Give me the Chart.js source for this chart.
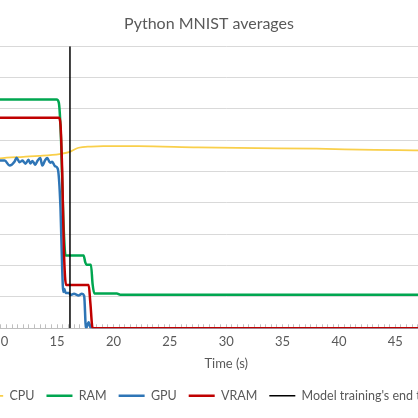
<!DOCTYPE html>
<html>
<head>
<meta charset="utf-8">
<script src="https://cdn.jsdelivr.net/npm/chart.js@4"></script>
<style>
    html, body { margin: 0; padding: 0; background: #fff; overflow: hidden; }
    body { width: 418px; height: 418px; position: relative; }
    /* the reference is a crop of a wider chart, so the chart is shifted left */
    #wrap { position: absolute; left: -162px; top: 0; width: 744px; height: 418px; }
</style>
</head>
<body>
<div id="wrap"><canvas id="chart"></canvas></div>
<script>
// Series data (time in seconds, usage values)
const cpuTime = [0, 3, 6, 9.9, 12, 13.4, 15.2, 16.05, 16.9, 18, 19.1, 22.2, 27.5, 32.7, 38, 43.2, 46.6, 52, 60];
const cpuValues = [45, 50, 52.5, 54.2, 54.7, 55, 55.6, 56.2, 57.6, 58, 58.1, 58.1, 57.7, 57.5, 57.3, 56.9, 56.8, 56.6, 56.4];

const ramTime = [0, 14.95, 15.15, 15.35, 15.55, 15.75, 17.35, 17.5, 17.6, 18.0, 18.15, 18.3, 20.3, 20.6, 60];
const ramValues = [73, 73, 72, 60, 35, 23.2, 23.2, 21, 20.3, 20.3, 14, 11.1, 11.1, 10.7, 10.7];

const gpuTime = [0, 1, 2, 3, 4, 5, 6, 7, 8, 9, 9.9, 10.35, 10.79, 11.23, 11.4, 11.67, 11.93, 12.19, 12.46, 12.63,
    12.81, 13.07, 13.25, 13.51, 13.68, 13.95, 14.12, 14.39, 14.56, 14.82, 15.05, 15.3, 15.45, 15.55, 15.65,
    15.75, 16.05, 16.2, 16.5, 16.9, 17.2, 17.4, 17.56, 17.8, 18.0, 60];
const gpuValues = [48, 53, 52.4, 53.6, 52.1, 53.3, 52.7, 53.9, 52.3, 53.1, 53.5, 53.5, 51.9, 53.2, 54.4, 53, 53.5, 52.5, 53.8, 52.6,
    53.4, 52.2, 53.4, 54.3, 51.9, 53.7, 54.3, 52.8, 53.1, 51.7, 51, 38.4, 19, 11.6, 12.5,
    11.3, 11.3, 10.6, 11, 10.5, 11, 10.3, 0, 1.9, 0, 0];

const vramTime = [0, 15.15, 15.3, 15.45, 15.6, 15.8, 17.8, 17.95, 18.15, 60];
const vramValues = [67.2, 67.2, 65, 50, 25, 13.8, 13.8, 8, 0, 0];

const trainingEnd = 16.14;

const xTickStep = 0.5;
const xLabelStep = 5;
const yMax = 90;
const yStep = 10;

function toPoints(times, values) {
    return times.map((t, i) => ({ x: t, y: values[i] }));
}

document.addEventListener('DOMContentLoaded', function() {
    const ctx = document.getElementById('chart').getContext('2d');
    const font = 'Lato, "Open Sans", sans-serif';

    new Chart(ctx, {
        type: 'line',
        data: {
            datasets: [
                {
                    label: 'CPU',
                    data: toPoints(cpuTime, cpuValues),
                    borderColor: '#F9CF4A',
                    borderWidth: 1.75,
                    order: 4
                },
                {
                    label: 'RAM',
                    data: toPoints(ramTime, ramValues),
                    borderColor: '#00A650',
                    borderWidth: 2.5,
                    order: 3
                },
                {
                    label: 'GPU',
                    data: toPoints(gpuTime, gpuValues),
                    borderColor: '#2E75B6',
                    borderWidth: 2.5,
                    order: 2
                },
                {
                    label: 'VRAM',
                    data: toPoints(vramTime, vramValues),
                    borderColor: '#C00000',
                    borderWidth: 2.5,
                    order: 1
                },
                {
                    label: "Model training's end time",
                    data: [{ x: trainingEnd, y: 0 }, { x: trainingEnd, y: yMax }],
                    borderColor: '#000000',
                    borderWidth: 1.5,
                    cubicInterpolationMode: 'default',
                    tension: 0,
                    order: 0
                }
            ]
        },
        options: {
            responsive: true,
            maintainAspectRatio: false,
            animation: false,
            layout: { padding: { left: 8, right: 10, top: 0, bottom: 6 } },
            elements: {
                point: { radius: 0 },
                line: { cubicInterpolationMode: 'monotone', fill: false }
            },
            plugins: {
                title: {
                    display: true,
                    text: 'Python MNIST averages',
                    color: '#595959',
                    font: { family: font, size: 16, weight: 'normal' },
                    padding: { top: 14, bottom: 13 }
                },
                legend: {
                    position: 'bottom',
                    labels: {
                        usePointStyle: true,
                        pointStyle: 'line',
                        pointStyleWidth: 26,
                        color: '#595959',
                        font: { family: font, size: 12.5 },
                        padding: 12,
                        // keep the legend in dataset order, not drawing order
                        sort: (a, b) => a.datasetIndex - b.datasetIndex
                    }
                },
                tooltip: { enabled: false }
            },
            scales: {
                x: {
                    type: 'linear',
                    min: 0,
                    max: 60,
                    title: {
                        display: true,
                        text: 'Time (s)',
                        color: '#595959',
                        font: { family: font, size: 13 },
                        padding: { top: -4, bottom: 6 }
                    },
                    grid: {
                        drawOnChartArea: false,
                        drawTicks: true,
                        tickLength: -4,
                        color: '#BFBFBF'
                    },
                    border: { display: true, color: '#BFBFBF' },
                    ticks: {
                        stepSize: xTickStep,
                        autoSkip: false,
                        maxRotation: 0,
                        minRotation: 0,
                        padding: 10,
                        color: '#595959',
                        font: { family: font, size: 13 },
                        callback: function(value) {
                            return value % xLabelStep === 0 ? value : '';
                        }
                    }
                },
                y: {
                    min: 0,
                    max: yMax,
                    grid: { color: '#D9D9D9' },
                    border: { display: false },
                    ticks: {
                        stepSize: yStep,
                        color: '#595959',
                        font: { family: font, size: 13 }
                    },
                    afterFit: function(scale) {
                        scale.width = 42;
                    }
                }
            }
        }
    });
});
</script>
</body>
</html>
